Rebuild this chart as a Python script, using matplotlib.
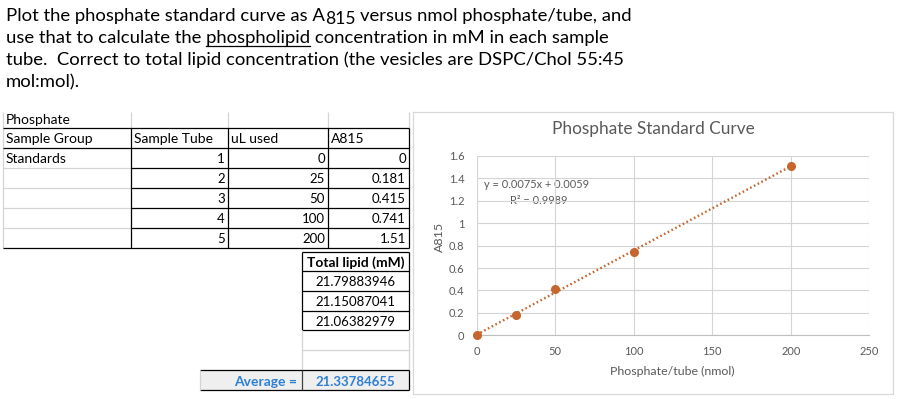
import matplotlib
matplotlib.use('Agg')
import matplotlib.pyplot as plt
import numpy as np

W, H = 898, 399

# worksheet values
tubes = [1, 2, 3, 4, 5]
ul_used = [0, 25, 50, 100, 200]
a815 = [0, 0.181, 0.415, 0.741, 1.51]
total_lipid = ['21.79883946', '21.15087041', '21.06382979']
average = '21.33784655'

# chart values
phosphate_nmol = [0, 25, 50, 100, 200]
x_ticks = [0, 50, 100, 150, 200, 250]
y_ticks = [0, 0.2, 0.4, 0.6, 0.8, 1.0, 1.2, 1.4, 1.6]
fit_slope = 0.0075
fit_intercept = 0.0059
r_squared = 0.9989

FONT = 'Lato'
GRID = '#d4d4d4'
GRAY_TXT = '#595959'
ORANGE = '#c4662e'
BLUE = '#2e7fd6'

plt.rcParams['font.family'] = FONT

fig = plt.figure(figsize=(W / 100, H / 100), dpi=100)
bg = fig.add_axes([0, 0, 1, 1])
bg.set_xlim(0, W)
bg.set_ylim(H, 0)
bg.axis('off')
renderer = fig.canvas.get_renderer()


def tw(s, size, weight='normal'):
  t = bg.text(0, 0, s, fontsize=size, fontweight=weight)
  w = t.get_window_extent(renderer=renderer).width
  t.remove()
  return w


# ---- instruction paragraph ----
psize = 13.3
px = 6
space = tw('a a', psize) - tw('aa', psize)
part1 = 'Plot the phosphate standard curve as A'
bg.text(px, 20.7, part1, fontsize=psize, va='baseline')
x1 = px + tw(part1, psize)
bg.text(x1, 23.5, '815', fontsize=psize * 0.95, va='baseline')
x2 = x1 + tw('815', psize * 0.95) + space
bg.text(x2, 20.7, 'versus nmol phosphate/tube, and', fontsize=psize, va='baseline')

line2 = 'use that to calculate the phospholipid concentration in mM in each sample'
bg.text(px, 42.7, line2, fontsize=psize, va='baseline')
u0 = px + tw('use that to calculate the p', psize) - tw('p', psize)
u1 = u0 + tw('phospholipid', psize)
bg.plot([u0, u1], [46.3, 46.3], color='black', lw=0.9)

bg.text(px, 65, 'tube.  Correct to total lipid concentration (the vesicles are DSPC/Chol 55:45',
        fontsize=psize, va='baseline')
bg.text(px, 87.3, 'mol:mol).', fontsize=psize, va='baseline')

# ---- worksheet table ----
cols = [3, 131, 228, 328, 409]
rows = [128, 148, 168, 188, 208, 228, 248]
tsize = 10
nsize = 9.5


def hline(y, xa, xb, c='black', lw=0.9):
  bg.plot([xa, xb], [y, y], color=c, lw=lw, solid_capstyle='butt')


def vline(x, ya, yb, c='black', lw=0.9):
  bg.plot([x, x], [ya, yb], color=c, lw=lw, solid_capstyle='butt')


# light excel grid
for x in cols:
  vline(x, 112, 128, GRID)
vline(cols[0], 128, 248, GRID)
for y in rows[2:6]:
  hline(y, cols[0], cols[1], GRID)
# black borders
for y in [128, 148, 248]:
  hline(y, cols[0], cols[4])
for y in rows[2:6]:
  hline(y, cols[1], cols[4])
for x in cols[1:]:
  vline(x, 128, 248)

bg.text(cols[0] + 3, 124, 'Phosphate', fontsize=tsize, va='baseline')
headers = ['Sample Group', 'Sample Tube', 'uL used', 'A815']
for i, h in enumerate(headers):
  bg.text(cols[i] + 3, 143, h, fontsize=tsize, va='baseline')
bg.text(cols[0] + 3, 163, 'Standards', fontsize=tsize, va='baseline')
for i in range(len(tubes)):
  yb = rows[i + 1] + 15
  bg.text(cols[2] - 3, yb, '{:d}'.format(tubes[i]), fontsize=nsize, va='baseline', ha='right')
  bg.text(cols[3] - 3, yb, '{:d}'.format(ul_used[i]), fontsize=nsize, va='baseline', ha='right')
  bg.text(cols[4] - 3, yb, '{:g}'.format(a815[i]), fontsize=nsize, va='baseline', ha='right')

# total lipid block
lx0, lx1 = 302, 409
lrows = [252, 271, 291, 311, 330]
for y in lrows:
  hline(y, lx0, lx1)
vline(lx0, 252, 330)
vline(lx1, 252, 330)
lc = (lx0 + lx1) / 2
bg.text(lc, 267, 'Total lipid (mM)', fontsize=tsize, fontweight='bold', va='baseline', ha='center')
for i, v in enumerate(total_lipid):
  bg.text(lc, lrows[i + 1] + 15, v, fontsize=nsize, va='baseline', ha='center')
vline(lx0, 330, 370, GRID)
vline(lx1, 330, 370, GRID)
hline(350, lx0, lx1, GRID)

# average row
bg.fill_between([200, 409], 370, 390, color='#efefef', lw=0)
hline(370, 200, 409)
hline(390, 200, 409)
vline(200, 370, 390, GRID)
vline(lx0, 370, 390, '#404040')
vline(lx1, 370, 390)
bg.text(lx0 - 5, 386, 'Average =', fontsize=tsize, fontweight='bold', color=BLUE, va='baseline', ha='right')
bg.text(lc, 386, average, fontsize=nsize, fontweight='bold', color=BLUE, va='baseline', ha='center')

# chart frame
bg.plot([413, 893, 893, 413, 413], [112, 112, 394, 394, 112], color='#d9d9d9', lw=0.9)
bg.text(653, 129, 'Phosphate Standard Curve', fontsize=12.4, color=GRAY_TXT, ha='center', va='center')
bg.text(439, 237, 'A815', fontsize=8.9, color=GRAY_TXT, ha='center', va='center', rotation=90)
bg.text(672, 371, 'Phosphate/tube (nmol)', fontsize=8.9, color=GRAY_TXT, ha='center', va='center')

# ---- chart ----
ax_l, ax_r, ax_t, ax_b = 476.7, 869.3, 156.0, 335.3
ax = fig.add_axes([ax_l / W, (H - ax_b) / H, (ax_r - ax_l) / W, (ax_b - ax_t) / H])
ax.set_facecolor('none')
ax.set_xlim(x_ticks[0], x_ticks[-1])
ax.set_ylim(y_ticks[0], y_ticks[-1])
ax.set_xticks(x_ticks)
ax.set_yticks(y_ticks)
ax.set_xticklabels(['{:g}'.format(v) for v in x_ticks])
ax.set_yticklabels(['{:g}'.format(v) for v in y_ticks])
ax.tick_params(length=0, labelsize=8, labelcolor=GRAY_TXT)
ax.tick_params(axis='x', pad=7.5)
ax.tick_params(axis='y', pad=9)
ax.grid(True, color=GRID, lw=0.8)
for s in ['top', 'right', 'left']:
  ax.spines[s].set_visible(False)
ax.spines['bottom'].set_color('#bfbfbf')
ax.spines['bottom'].set_linewidth(0.8)

slope, intercept = np.polyfit(phosphate_nmol, a815, 1)
xf = np.array([phosphate_nmol[0], phosphate_nmol[-1]])
ax.plot(xf, slope * xf + intercept, color=ORANGE, lw=1.7, linestyle=(0, (0.7, 1.1)), zorder=3)
ax.plot(phosphate_nmol, a815, 'o', color=ORANGE, ms=5.5, zorder=4, clip_on=False)

bg.text(484, 185, 'y = {:.4f}x + {:.4f}'.format(fit_slope, fit_intercept), fontsize=7.9,
        color=GRAY_TXT, va='center')
bg.text(510, 200, 'R\u00b2 = {:.4f}'.format(r_squared), fontsize=7.9, color=GRAY_TXT, va='center')

fig.savefig('out.png', dpi=100)
